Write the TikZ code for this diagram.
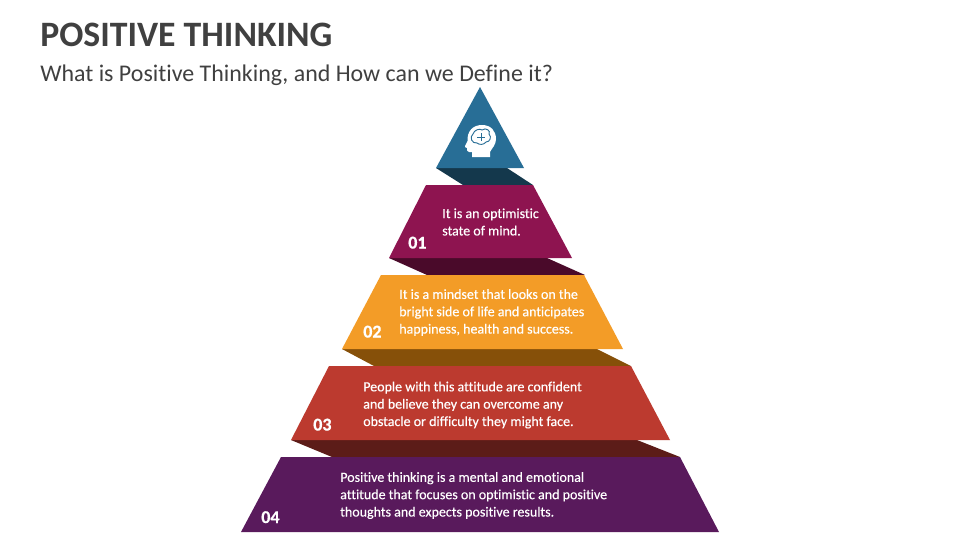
\documentclass[tikz,border=0pt]{standalone}
\usepackage{fontspec}
\setmainfont{Carlito}[Ligatures=NoCommon]
\newfontfamily\bodyfont{Carlito}[Ligatures=NoCommon,AutoFakeBold=0.35]
\newfontfamily\numfont{Carlito Bold}[FakeBold=0.6]
\definecolor{cTitle}{HTML}{404040}
\definecolor{cBlue}{HTML}{286E96}
\definecolor{cBlueD}{HTML}{14384C}
\definecolor{cWine}{HTML}{8E1450}
\definecolor{cWineD}{HTML}{4A0A2A}
\definecolor{cOrange}{HTML}{F39C27}
\definecolor{cOrangeD}{HTML}{865009}
\definecolor{cRed}{HTML}{BC3A2F}
\definecolor{cRedD}{HTML}{5C1C18}
\definecolor{cPurple}{HTML}{591A5C}
\tikzset{mytitle/.style={
  anchor=base west,
  inner sep=0pt,
  text = cTitle,
  font=\bfseries\fontsize{26.8}{30}\selectfont,
  }
}
\tikzset{mysub/.style={
  anchor=base west,
  inner sep=0pt,
  text = cTitle,
  font=\fontsize{17.94}{22}\selectfont,
  }
}
\tikzset{mytext/.style={
  anchor=west,
  inner sep=0pt,
  align=left,
  text = white,
  font=\bodyfont\bfseries\fontsize{10.5}{13}\selectfont,
  }
}
\tikzset{mynum/.style={
  anchor=base west,
  inner sep=0pt,
  text = white,
  font=\numfont\fontsize{13.5}{15}\selectfont,
  }
}
\begin{document}
\begin{tikzpicture}[x=0.75pt,y=-0.75pt]
  \useasboundingbox (0,0) rectangle (960,540);
  \fill[white] (0,0) rectangle (960,540);

  \node [mytitle] (title) at (40,46) {POSITIVE THINKING};
  \node [mysub] (sub) at (40,81) {What is Positive Thinking, and How can we Define it?};

  % shadows
  \fill[cBlueD] (436,168) -- (507,168) -- (533,185) -- (463,185) -- cycle;
  \fill[cWineD] (389,258) -- (547,258) -- (585,275) -- (427,275) -- cycle;
  \fill[cOrangeD] (342,349) -- (597,349) -- (631,366) -- (374,366) -- cycle;
  \fill[cRedD] (291,440) -- (637,440) -- (680,457) -- (332,457) -- cycle;

  % steps
  \fill[cBlue] (480,87) -- (524,168) -- (436,168) -- cycle;
  \fill[cWine] (426,185) -- (533,185) -- (572,258) -- (389,258) -- cycle;
  \fill[cOrange] (381,275) -- (584,275) -- (623,349) -- (342,349) -- cycle;
  \fill[cRed] (329,366) -- (631,366) -- (670,440) -- (291,440) -- cycle;
  \fill[cPurple] (281,457) -- (680,457) -- (719,532) -- (241,532) -- cycle;

  % head
  \fill[white] (472,157) -- (472,152) -- (469,152) .. controls (467,152) and (467,150) .. (467,148)
    -- (465,147) -- (465,146) -- (467.5,141) .. controls (467,131) and (473,125) .. (482,125)
    .. controls (491,125) and (496,131) .. (496,139) .. controls (496,145) and (492,148) .. (490,152)
    -- (490,157) -- cycle;
  \draw[cBlue,line width=0.7pt] (473,134) .. controls (474,130) and (480,128) .. (482,130)
    .. controls (486,127) and (491,131) .. (489,134) .. controls (492,137) and (490,142) .. (486,142)
    .. controls (484,145) and (479,145) .. (477,143) .. controls (472,144) and (469,137) .. (473,134) -- cycle;
  \draw[cBlue,line width=0.7pt] (477,137) -- (485,137) (481,133) -- (481,141);

  % labels
  \node [mytext] (t1) at (442,222) {It is an optimistic\\state of mind.};
  \node [mytext] (t2) at (399,312.5) {It is a mindset that looks on the\\bright side of life and anticipates\\happiness, health and success.};
  \node [mytext] (t3) at (363,405) {People with this attitude are confident\\and believe they can overcome any\\obstacle or difficulty they might face.};
  \node [mytext] (t4) at (340,495.5) {Positive thinking is a mental and emotional\\attitude that focuses on optimistic and positive\\thoughts and expects positive results.};

  \node [mynum] (n1) at (408,248.5) {01};
  \node [mynum] (n2) at (363,337.5) {02};
  \node [mynum] (n3) at (313,430.5) {03};
  \node [mynum] (n4) at (261,523) {04};
\end{tikzpicture}
\end{document}
